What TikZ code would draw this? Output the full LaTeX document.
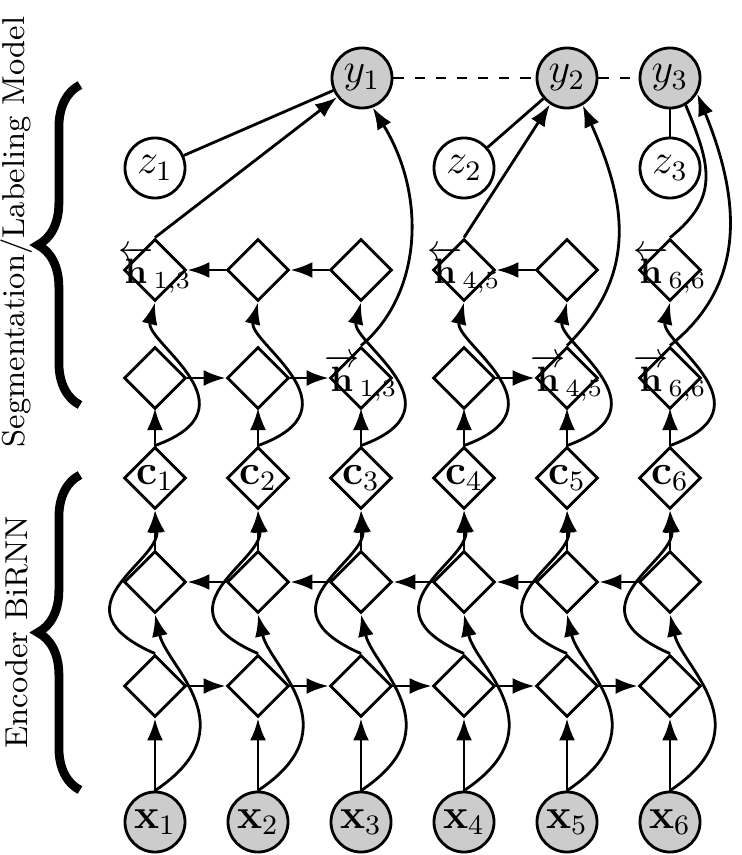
\documentclass[tikz,border=0pt]{standalone}
\usepackage{amsmath}
\usetikzlibrary{shapes.geometric,arrows.meta,decorations.pathreplacing}
\tikzset{
  cell/.style={draw,thick,diamond,inner sep=0pt,minimum width=0.62cm,minimum height=0.62cm},
  obs/.style={draw,thick,circle,fill=black!20,minimum size=0.6cm,inner sep=0pt},
  lat/.style={draw,thick,circle,minimum size=0.6cm,inner sep=0pt},
  arr/.style={thick,-{Latex[length=2.2mm,width=1.6mm]}},
  lnk/.style={thick}
}
\newcommand{\celltxt}[1]{\makebox[0pt]{#1}}
\newcommand{\hidtxt}[1]{\makebox[0pt]{\normalsize#1}}
\begin{document}
\begin{tikzpicture}[x=0.01cm,y=-0.01cm,font=\large]
\useasboundingbox (0,0) rectangle (741,855);
% encoder
\foreach \i/\px in {1/155,2/258,3/361,4/464,5/567,6/670}{
  \node[obs] (x\i) at (\px,822) {$\mathbf{x}_{\i}$};
  \node[cell] (f\i) at (\px,686) {};
  \node[cell] (b\i) at (\px,582) {};
  \node[cell] (c\i) at (\px,478) {\celltxt{$\mathbf{c}_{\i}$}};
  \draw[arr] (x\i) -- (f\i);
  \draw[arr] (b\i) -- (c\i);
  \draw[arr] (x\i.north) .. controls +(95,-63) and +(12,53) .. (b\i.south);
  \draw[arr] (f\i.north) .. controls +(-105,-46) and +(5,52) .. (c\i.south);
  \draw[arr] (c\i) -- +(0,-70);
}
\foreach \i/\j in {1/2,2/3,3/4,4/5,5/6}{
  \draw[arr] (f\i) -- (f\j);
  \draw[arr] (b\j) -- (b\i);
}
% segments
\node[cell] (s1) at (155,378) {};
\node[cell] (s2) at (258,378) {};
\node[cell] (s3) at (361,378) {\hidtxt{$\overrightarrow{\mathbf{h}}_{1,3}$}};
\node[cell] (s4) at (464,378) {};
\node[cell] (s5) at (567,378) {\hidtxt{$\overrightarrow{\mathbf{h}}_{4,5}$}};
\node[cell] (s6) at (670,378) {\hidtxt{$\overrightarrow{\mathbf{h}}_{6,6}$}};
\node[cell] (r1) at (155,270) {\hidtxt{$\overleftarrow{\mathbf{h}}_{1,3}$}};
\node[cell] (r2) at (258,270) {};
\node[cell] (r3) at (361,270) {};
\node[cell] (r4) at (464,270) {\hidtxt{$\overleftarrow{\mathbf{h}}_{4,5}$}};
\node[cell] (r5) at (567,270) {};
\node[cell] (r6) at (670,270) {\hidtxt{$\overleftarrow{\mathbf{h}}_{6,6}$}};
\foreach \i in {1,...,6}{
  \draw[arr] (c\i.north) .. controls +(105,-38) and +(-10,40) .. (r\i.south);
}
\draw[arr] (s1) -- (s2);
\draw[arr] (s2) -- (s3);
\draw[arr] (s4) -- (s5);
\draw[arr] (r3) -- (r2);
\draw[arr] (r2) -- (r1);
\draw[arr] (r5) -- (r4);
% labels
\node[obs] (y1) at (362,78) {$y_1$};
\node[obs] (y2) at (567,78) {$y_2$};
\node[obs] (y3) at (670,78) {$y_3$};
\node[lat] (z1) at (155,168) {$z_1$};
\node[lat] (z2) at (464,168) {$z_2$};
\node[lat] (z3) at (670,168) {$z_3$};
\draw[thick,dashed] (y1) -- (y2) -- (y3);
\draw[lnk] (z1) -- (y1);
\draw[lnk] (z2) -- (y2);
\draw[lnk] (z3) -- (y3);
\draw[arr] (r1.north) -- (y1);
\draw[arr] (r4.north) -- (y2);
\draw[arr] (s3.north) .. controls +(60,-50) and +(55,90) .. (y1.-70);
\draw[arr] (s5.north) .. controls +(70,-70) and +(45,100) .. (y2.-60);
\draw[arr] (s6.north) .. controls +(75,-60) and +(45,110) .. (y3.-30);
\draw[lnk] (r6.north) .. controls +(50,-40) and +(25,60) .. (y3.-60);
% braces
\draw[line width=2.5pt,decorate,decoration={brace,amplitude=12pt}] (80,405) -- (80,85);
\draw[line width=2.5pt,decorate,decoration={brace,amplitude=12pt}] (80,790) -- (80,475);
\node[rotate=90,font=\small] (seglbl) at (17,232) {Segmentation/Labeling Model};
\node[rotate=90,font=\small] (enclbl) at (17,632) {Encoder BiRNN};
\end{tikzpicture}
\end{document}
